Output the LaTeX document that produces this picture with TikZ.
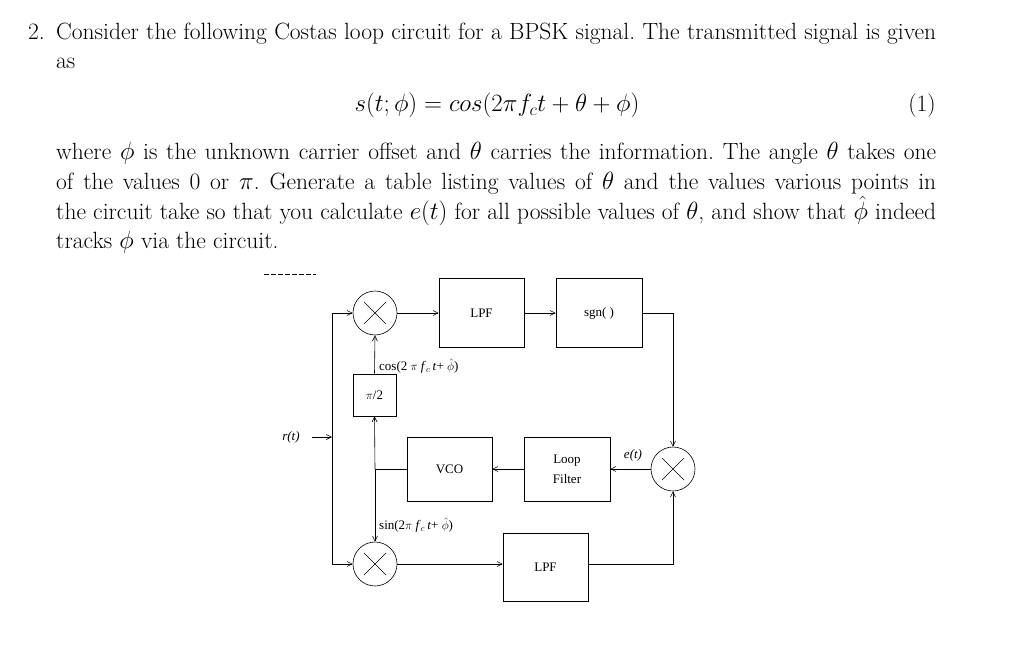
\documentclass[tikz,border=0pt]{standalone}
\usepackage{fontspec}
\newfontfamily\dg{Liberation Serif}
\usetikzlibrary{arrows.meta}
\begin{document}
\frenchspacing
\begin{tikzpicture}[x=1pt,y=-1pt,
  txt/.style={anchor=base west,inner sep=0pt,font=\fontsize{23.5}{28}\selectfont},
  blk/.style={draw,line width=0.6pt,inner sep=0pt,font=\dg\fontsize{13}{16}\selectfont},
  mul/.style={draw,circle,line width=0.6pt,minimum size=44pt,inner sep=0pt,path picture={\draw[line width=0.6pt] ([shift={(-11pt,-11pt)}]path picture bounding box.center)--++(22pt,22pt) ([shift={(-11pt,11pt)}]path picture bounding box.center)--++(22pt,-22pt);}},
  lbl/.style={inner sep=0pt,font=\dg\fontsize{13}{16}\selectfont},
  wire/.style={line width=0.6pt},
  arr/.style={wire,-{Straight Barb[length=5pt,width=5pt]}}]
\useasboundingbox (0,0) rectangle (1024,668);
% text
\node[txt] (t0) at (28,40) {2.};
\node[txt] (t1) at (56,40) {\hbox to 880pt{Consider the following Costas loop circuit for a BPSK signal. The transmitted signal is given}};
\node[txt] (t2) at (56,69) {as};
\node[anchor=base,inner sep=0pt,font=\fontsize{23.5}{28}\selectfont] (eq) at (497,112) {$s(t;\phi)=cos(2\pi f_c t+\theta+\phi)$};
\node[anchor=base east,inner sep=0pt,font=\fontsize{23.5}{28}\selectfont] (en) at (936,112) {(1)};
\node[txt] (p1) at (56,160) {\hbox to 880pt{where $\phi$ is the unknown carrier offset and $\theta$ carries the information. The angle $\theta$ takes one}};
\node[txt] (p2) at (56,190) {\hbox to 880pt{of the values 0 or $\pi$. Generate a table listing values of $\theta$ and the values various points in}};
\node[txt] (p3) at (56,220) {\hbox to 880pt{the circuit take so that you calculate $e(t)$ for all possible values of $\theta$, and show that $\hat\phi$ indeed}};
\node[txt] (p4) at (56,248) {tracks $\phi$ via the circuit.};
% dashes
\draw[line width=0.7pt,dash pattern=on 5pt off 2pt] (264,274) -- (316,274);
% diagram
\node[mul] (m1) at (375,313) {};
\node[mul] (m2) at (375,564) {};
\node[mul] (m3) at (673,469) {};
\node[blk,minimum width=85pt,minimum height=69pt] (lpf1) at (481.5,313) {LPF};
\node[blk,minimum width=86pt,minimum height=69pt] (sgn) at (599,313) {sgn( )};
\node[blk,minimum width=43pt,minimum height=42pt] (pi) at (374.5,395) {$\pi$/2};
\node[blk,minimum width=85pt,minimum height=64pt] (vco) at (449.5,469) {VCO};
\node[blk,minimum width=86pt,minimum height=64pt,align=center] (lf) at (567,469) {Loop\\[4pt]Filter};
\node[blk,minimum width=85pt,minimum height=68pt] (lpf2) at (545.5,567) {LPF};
\node[lbl] (rt) at (291,437) {\itshape r(t)};
\node[lbl] (et) at (633,455) {\itshape e(t)};
\node[lbl,anchor=west] (cl) at (379,366) {cos(2 $\pi$ \textit{f}$_c$\,\textit{t}+ $\hat\phi$)};
\node[lbl,anchor=west] (sl) at (379,525) {sin(2$\pi$ \textit{f}$_c$\,\textit{t}+ $\hat\phi$)};
\coordinate (rin) at (312,437);
\coordinate (rj) at (332,437);
\coordinate (v) at (375,469);
\draw[arr] (rin) -- (rj);
\draw[arr] (rj) |- (m1.west);
\draw[arr] (rj) |- (m2.west);
\draw[arr] (m1.east) -- (lpf1.west);
\draw[arr] (lpf1.east) -- (sgn.west);
\draw[arr] (sgn.east) -| (m3.north);
\draw[arr] (lpf2.east |- m2.east) -| (m3.south);
\draw[arr] (m2.east) -- (m2.east -| lpf2.west);
\draw[arr] (m3.west) -- (lf.east);
\draw[arr] (lf.west) -- (vco.east);
\draw[wire] (vco.west) -- (v);
\draw[arr] (v) -- (pi.south);
\draw[arr] (pi.north) -- (m1.south);
\draw[arr] (v) -- (m2.north);
\end{tikzpicture}
\end{document}
